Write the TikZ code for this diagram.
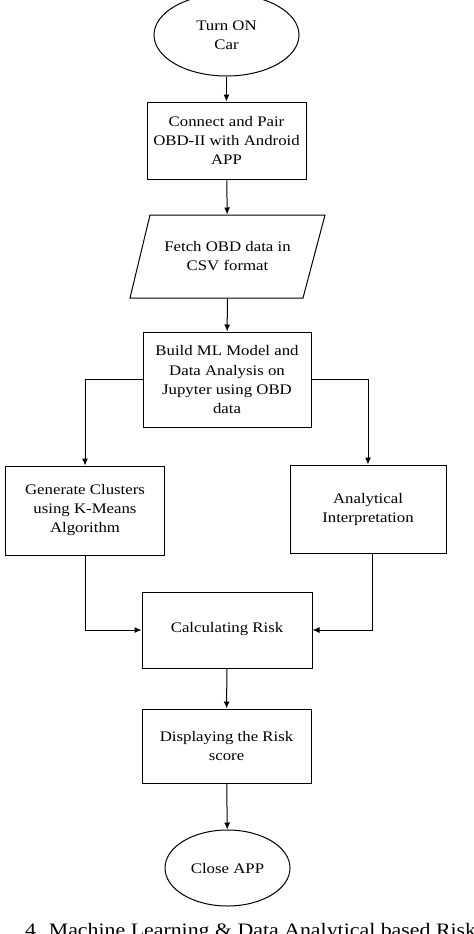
\documentclass[tikz,border=0pt]{standalone}
\usepackage{fontspec}
\setmainfont{Liberation Serif}[FakeStretch=1.15]
\usetikzlibrary{shapes.geometric,arrows.meta}
\begin{document}
\begin{tikzpicture}[x=1bp,y=-1bp,
  base/.style={draw=black,line width=1bp,align=center,inner sep=0pt,
    font=\fontsize{14.6bp}{19bp}\selectfont},
  procbox/.style={base,rectangle},
  term/.style={base,ellipse},
  flow/.style={line width=1bp,-{Latex[length=7bp,width=6bp]}}]
\useasboundingbox (0,0) rectangle (474,934);
\clip (0,0) rectangle (474,934);
\node[term,minimum width=145bp,minimum height=82bp] (start) at (226.5,35) {Turn ON\\Car};
\node[procbox,minimum width=159bp,minimum height=77bp] (b1) at (226.5,140.5) {Connect and Pair\\OBD-II with Android\\APP};
\node[base,draw=none,minimum width=150bp,minimum height=83bp] (para) at (227.5,256.5) {Fetch OBD data in\\CSV format};
\draw[line width=1bp] (150,215) -- (325,215) -- (303,298) -- (130,298) -- cycle;
\node[procbox,minimum width=168bp,minimum height=95bp] (b3) at (227,379.5) {Build ML Model and\\Data Analysis on\\Jupyter using OBD\\data};
\node[procbox,minimum width=158bp,minimum height=89bp] (b4) at (85,510.5) {Generate Clusters\\using K-Means\\Algorithm};
\node[procbox,minimum width=156bp,minimum height=88bp] (b5) at (368,509) {Analytical\\Interpretation};
\node[procbox,minimum width=170bp,minimum height=76bp] (b6) at (227,630) {\raisebox{6bp}{Calculating Risk}};
\node[procbox,minimum width=169bp,minimum height=74bp] (b7) at (226.5,746) {\raisebox{4bp}{\parbox{160bp}{\centering Displaying the Risk\\score}}};
\node[term,minimum width=125bp,minimum height=76bp] (end) at (227.5,868) {Close APP};
\node[anchor=base west,inner sep=0pt,font=\fontsize{19bp}{22bp}\selectfont] (cap) at (25,936) {4. Machine Learning \& Data Analytical based Risk};
\draw[flow] (start) -- (b1);
\draw[flow] (b1) -- (para);
\draw[flow] (para) -- (b3);
\draw[flow] (b3.west) -| (b4.north);
\draw[flow] (b3.east) -| (b5.north);
\draw[flow] (b4.south) |- (b6.west);
\draw[flow] ([xshift=4bp]b5.south) |- (b6.east);
\draw[flow] (b6) -- (b7);
\draw[flow] (b7) -- (end);
\end{tikzpicture}
\end{document}
